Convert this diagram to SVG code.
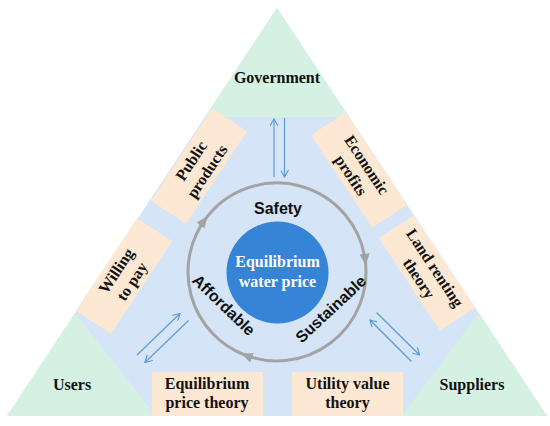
<svg xmlns="http://www.w3.org/2000/svg" width="550" height="426" viewBox="0 0 550 426">
<defs>
<style>
.green{fill:#d4f1e4}
.peach{fill:#fce8d3}
.serif{font-family:"Liberation Serif","Times New Roman",serif;font-weight:bold;font-size:16px;fill:#111;text-anchor:middle}
.sans{font-family:"Liberation Sans",Arial,sans-serif;font-weight:bold;font-size:16px;fill:#111;text-anchor:middle}
.ring{fill:none;stroke:#a3a3a3;stroke-width:3}
.flow{fill:none;stroke:#5b9bd8;stroke-width:1.2}
</style>
<marker id="ringHead" viewBox="0 0 12 10" refX="9" refY="5" markerWidth="12" markerHeight="10" markerUnits="userSpaceOnUse" orient="auto">
<path d="M0,0 L12,5 L0,10 z" fill="#a3a3a3"/>
</marker>
<marker id="flowHead" viewBox="0 0 8 8" refX="7" refY="4" markerWidth="8" markerHeight="8" markerUnits="userSpaceOnUse" orient="auto">
<path d="M0,0 L7,4 L0,8" fill="none" stroke="#5b9bd8" stroke-width="1.2"/>
</marker>
</defs>
<rect width="550" height="426" fill="#ffffff"/>
<polygon id="background" points="277,8 7,416 547,416" fill="#d5e5f7"/>
<g id="government">
<polygon class="green" points="277,8 205,117 349,117"/>
<text class="serif" x="277" y="83">Government</text>
</g>
<g id="users">
<polygon class="green" points="7,416 75,313 156,416"/>
<text class="serif" x="72" y="390">Users</text>
</g>
<g id="suppliers">
<polygon class="green" points="547,416 479,313 402,416"/>
<text class="serif" x="472" y="390">Suppliers</text>
</g>
<g id="public-products" transform="translate(199,166) rotate(-56.5)">
<rect class="peach" x="-55.5" y="-21" width="111" height="42"/>
<text class="serif" x="0" y="-4">Public</text>
<text class="serif" x="0" y="15">products</text>
</g>
<g id="willing-to-pay" transform="translate(124,276) rotate(-56.5)">
<rect class="peach" x="-55.5" y="-21" width="111" height="42"/>
<text class="serif" x="0" y="-4">Willing</text>
<text class="serif" x="0" y="15">to pay</text>
</g>
<g id="economic-profits" transform="translate(359,170) rotate(56.5)">
<rect class="peach" x="-55.5" y="-21" width="111" height="42"/>
<text class="serif" x="0" y="-4">Economic</text>
<text class="serif" x="0" y="15">profits</text>
</g>
<g id="land-renting-theory" transform="translate(427,273) rotate(56.5)">
<rect class="peach" x="-55.5" y="-21" width="111" height="42"/>
<text class="serif" x="0" y="-4">Land renting</text>
<text class="serif" x="0" y="15">theory</text>
</g>
<g id="equilibrium-price-theory">
<rect class="peach" x="152" y="372" width="111" height="44"/>
<text class="serif" x="207" y="389">Equilibrium</text>
<text class="serif" x="207" y="408">price theory</text>
</g>
<g id="utility-value-theory">
<rect class="peach" x="292" y="372" width="111" height="44"/>
<text class="serif" x="347.5" y="389">Utility value</text>
<text class="serif" x="347.5" y="408">theory</text>
</g>
<g id="equilibrium-water-price">
<circle cx="277.5" cy="272.5" r="51" fill="#3584d8"/>
<text class="serif" x="277.5" y="267" style="fill:#ffffff">Equilibrium</text>
<text class="serif" x="277.5" y="287" style="fill:#ffffff">water price</text>
</g>
<g id="connectors">
<path class="ring" d="M243.7,354.5 A89,89 0 0 1 205.9,218.4" marker-end="url(#ringHead)"/>
<path class="ring" d="M205.9,218.4 A89,89 0 0 1 365.5,262.7" marker-end="url(#ringHead)"/>
<path class="ring" d="M365.5,262.7 A89,89 0 0 1 243.7,354.5" marker-end="url(#ringHead)"/>
<line class="flow" x1="274" y1="177" x2="274" y2="119" marker-end="url(#flowHead)"/>
<line class="flow" x1="284.5" y1="118" x2="284.5" y2="177" marker-end="url(#flowHead)"/>
<line class="flow" x1="137" y1="355" x2="180" y2="313.5" marker-end="url(#flowHead)"/>
<line class="flow" x1="188.5" y1="320.5" x2="145" y2="362.5" marker-end="url(#flowHead)"/>
<line class="flow" x1="411.5" y1="361.5" x2="370" y2="320" marker-end="url(#flowHead)"/>
<line class="flow" x1="376.5" y1="312.5" x2="419.5" y2="355" marker-end="url(#flowHead)"/>
</g>
<g id="ring-labels">
<text class="sans" x="278" y="214">Safety</text>
<text class="sans" transform="translate(220,309) rotate(44)">Affordable</text>
<text class="sans" transform="translate(334.5,313) rotate(-43)">Sustainable</text>
</g>
</svg>
